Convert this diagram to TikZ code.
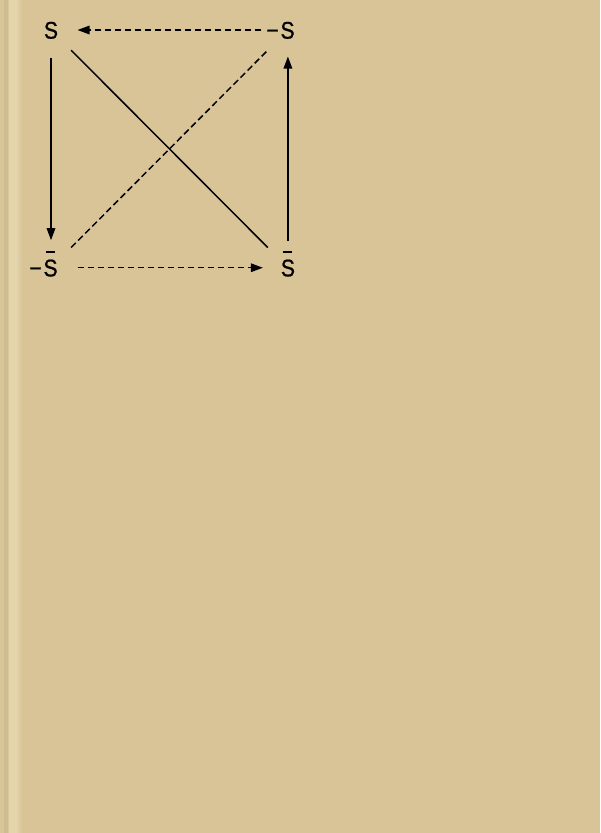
\documentclass[tikz,border=0pt]{standalone}
\usepackage{fontspec}
\setmainfont{Liberation Sans}[FakeStretch=0.88,FakeBold=0.8]
\usetikzlibrary{arrows.meta}
\definecolor{paper}{RGB}{216,196,151}
\definecolor{paperlight}{RGB}{228,213,173}
\definecolor{paperdark}{RGB}{206,189,145}
\newcommand{\mns}{−\kern1.8pt}
\newcommand{\ovS}{\ooalign{S\cr\hidewidth\rule[23.8pt]{9pt}{1.3pt}\hidewidth\cr}}

\begin{document}
\begin{tikzpicture}[
  lbl/.style={font=\fontsize{24}{24}\selectfont,text=black,inner sep=0pt,text height=17.2pt,text depth=0pt},
  link/.style={black,line width=1.5pt,shorten <=26.5pt,shorten >=26.5pt},
  dashlink/.style={link,dash pattern=on 6.5pt off 3.5pt},
  tip/.style={-{Triangle[length=12pt,width=8.5pt]}}
]
\fill[paper] (0,0) rectangle (21.0875,29.2765);
\fill[paperdark] (0.14,0) rectangle (0.25,29.2765);
\shade[left color=paperdark,right color=paperlight] (0.25,0) rectangle (0.32,29.2765);
\fill[paperlight] (0.32,0) rectangle (0.56,29.2765);
\shade[left color=paperlight,right color=paper] (0.56,0) rectangle (0.78,29.2765);

\node[lbl] (tl) at (1.7925,28.221) {S};
\node[lbl,anchor=east] (tr) at (10.361,28.221) {\mns S};
\node[lbl,anchor=east] (bl) at (2.031,19.866) {\mns\ovS};
\node[lbl] (br) at (10.119,19.866) {\ovS};

\draw[dashlink,tip] (br.center |- tr.center) -- (tl.center);
\draw[dashlink,tip,shorten >=25pt] (tl.center |- bl.center) -- (br.center);
\draw[link,tip,shorten <=27.5pt,shorten >=27.5pt] (tl.center) -- (tl.center |- bl.center);
\draw[link,tip] (br.center) -- (br.center |- tr.center);
\draw[link,shorten <=28.5pt,shorten >=28.5pt] (tl.center) -- (br.center);
\draw[dashlink,shorten <=28.5pt,shorten >=28.5pt] (tl.center |- bl.center) -- (br.center |- tr.center);

\end{tikzpicture}
\end{document}
